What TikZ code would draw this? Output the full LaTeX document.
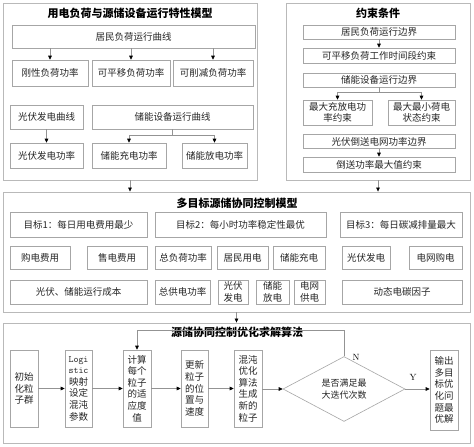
\documentclass[tikz,border=0pt]{standalone}
\usepackage{fontspec}
\newfontfamily\cjk{Noto Sans CJK SC}
\usetikzlibrary{shapes.geometric, arrows.meta}
\tikzset{
  panel/.style={draw=gray!55, line width=0.9pt, inner sep=0pt},
  box/.style={draw=gray!70, line width=0.6pt, inner sep=0pt, align=center,
    text=black!85, font=\cjk\fontsize{9.5}{11.6}\selectfont},
  ttl/.style={inner sep=0pt, font=\cjk\bfseries\fontsize{11}{13}\selectfont},
  sz/.style 2 args={minimum width=#1pt, minimum height=#2pt},
  link/.style={draw=gray!85, line width=0.6pt},
  arr/.style={link, -{Triangle[length=4pt,width=3.6pt,color=black]}},
  lbl/.style={inner sep=0pt, font=\fontsize{9}{10}\selectfont}
}
\begin{document}
\begin{tikzpicture}[x=1pt,y=-1pt]
\useasboundingbox[fill=white] (0,0) rectangle (474,447);

\node[panel, sz={254}{177}] (p1) at (130,91.5) {};
\node[ttl] (t1) at (130,13) {用电负荷与源储设备运行特性模型};
\node[box, sz={243}{23}] (r1) at (133.5,36.5) {居民负荷运行曲线};
\node[box, sz={76}{26}] (a1) at (50,73) {刚性负荷功率};
\node[box, sz={78}{26}] (a2) at (131,73) {可平移负荷功率};
\node[box, sz={80}{26}] (a3) at (213,73) {可削减负荷功率};
\node[box, sz={73}{24}] (b1) at (46.5,117) {光伏发电曲线};
\node[box, sz={161}{24}] (b2) at (172.5,117) {储能设备运行曲线};
\node[box, sz={73}{25}] (c1) at (46.5,155.5) {光伏发电功率};
\node[box, sz={74}{25}] (c2) at (129,155.5) {储能充电功率};
\node[box, sz={65}{25}] (c3) at (214.5,155.5) {储能放电功率};
\foreach \n in {a1,a2,a3}
  \draw[arr] (r1.south -| \n) -- (\n.north);
\draw[arr] (b1) -- (c1);
\draw[link] (b2.south) -- ++(0,6) coordinate (b2j);
\draw[link] (b2j -| c2) -- (b2j -| c3);
\draw[arr] (b2j -| c2) -- (c2.north);
\draw[arr] (b2j -| c3) -- (c3.north);

\node[panel, sz={184}{177}] (p2) at (378,91.5) {};
\node[ttl] (t2) at (378,13) {约束条件};
\node[box, sz={152}{14}] (d1) at (379,32) {居民负荷运行边界};
\node[box, sz={152}{15}] (d2) at (379,55.5) {可平移负荷工作时间段约束};
\node[box, sz={152}{14}] (d3) at (379,80) {储能设备运行边界};
\node[box, sz={69}{25}] (e1) at (337.5,112.5) {最大充放电功\\率约束};
\node[box, sz={67}{25}] (e2) at (421.5,112.5) {最大最小荷电\\状态约束};
\node[box, sz={152}{14}] (f1) at (379,141.5) {光伏倒送电网功率边界};
\node[box, sz={152}{15}] (f2) at (379,164.5) {倒送功率最大值约束};
\draw[arr] (d1) -- (d2);
\draw[link] (d3.south) -- ++(0,5) coordinate (d3j);
\draw[link] (d3j -| e1) -- (d3j -| e2);
\draw[arr] (d3j -| e1) -- (e1.north);
\draw[arr] (d3j -| e2) -- (e2.north);
\draw[arr] (f1) -- (f2);

\node[panel, sz={467}{120}] (p3) at (236.5,252) {};
\node[ttl] (t3) at (237,203) {多目标源储协同控制模型};
\node[box, sz={137}{25}] (g1) at (78.5,224.5) {目标1：每日用电费用最少};
\node[box, sz={171}{25}] (g2) at (240.5,224.5) {目标2：每小时功率稳定性最优};
\node[box, sz={122}{25}] (g3) at (401,224.5) {目标3：每日碳减排量最大};
\node[box, sz={60}{23}] (h1) at (40,257.5) {购电费用};
\node[box, sz={60}{23}] (h2) at (117,257.5) {售电费用};
\node[box, sz={56}{23}] (h3) at (183,257.5) {总负荷功率};
\node[box, sz={51}{23}] (h4) at (242.5,257.5) {居民用电};
\node[box, sz={52}{23}] (h5) at (299,257.5) {储能充电};
\node[box, sz={48}{23}] (h6) at (366,257.5) {光伏发电};
\node[box, sz={53}{23}] (h7) at (435.5,257.5) {电网购电};
\node[box, sz={137}{24}] (k1) at (78.5,292) {光伏、储能运行成本};
\node[box, sz={55}{24}] (k2) at (182.5,292) {总供电功率};
\node[box, sz={30}{24}] (k3) at (233,292) {光伏\\发电};
\node[box, sz={33}{24}] (k4) at (272.5,292) {储能\\放电};
\node[box, sz={31}{24}] (k5) at (309.5,292) {电网\\供电};
\node[box, sz={120}{24}] (k6) at (402,292) {动态电碳因子};
\draw[arr] (p1.south) -- (p1.south |- p3.north);
\draw[arr] (p2.south) -- (p2.south |- p3.north);

\node[panel, sz={467}{120}] (p4) at (236.5,383) {};
\node[ttl] (t4) at (237,332) {源储协同控制优化求解算法};
\node[box, sz={28}{77}] (m1) at (24,388.5) {初始\\化粒\\子群};
\node[box, sz={27}{77}] (m2) at (78.5,388.5) {\ttfamily Logi\\\ttfamily stic\\映射\\设定\\混沌\\参数};
\node[box, sz={28}{77}] (m3) at (137,388.5) {计算\\每个\\粒子\\的适\\应度\\值};
\node[box, sz={27}{77}] (m4) at (194.5,388.5) {更新\\粒子\\的位\\置与\\速度};
\node[box, sz={28}{77}] (m5) at (248,388.5) {混沌\\优化\\算法\\生成\\新的\\粒子};
\node[box, diamond, sz={122}{42}, font=\cjk\fontsize{9}{11.6}\selectfont] (m6) at (344,389) {是否满足最\\大迭代次数};
\node[box, sz={28}{80}] (m7) at (444,390) {输出\\多目\\标优\\化问\\题最\\优解};
\draw[arr] (p3.south) -- (p4.north);
\draw[arr] (m1) -- (m2);
\draw[arr] (m2) -- (m3);
\draw[arr] (m3) -- (m4);
\draw[arr] (m4) -- (m5);
\draw[arr] (m5.east |- m6.west) -- (m6.west);
\draw[arr] (m6.east) -- (m6.east -| m7.west);
\draw[arr] (m6.north) -- ++(0,-26) -| (m3.north);
\node[lbl] (nl) at (356,357) {N};
\node[lbl] (yl) at (413,377) {Y};
\end{tikzpicture}
\end{document}
